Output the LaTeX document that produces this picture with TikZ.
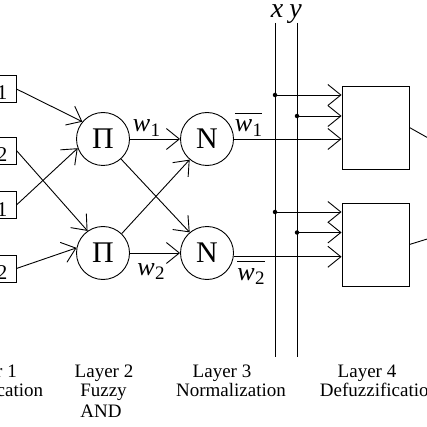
\documentclass[tikz,border=0pt]{standalone}
\usepackage{fontspec}
\setmainfont{Liberation Serif}
\usetikzlibrary{arrows.meta}
\newcommand\wsub[1]{{\fontsize{26}{26}\selectfont\itshape w}\kern0.5pt\raisebox{-4.5pt}{\fontsize{19}{19}\selectfont #1}}
\newcommand\wbar[1]{\vbox{\hrule height 0.9pt\kern6.5pt\hbox{\wsub{#1}}}}
\begin{document}
\begin{tikzpicture}[x=1pt,y=-1pt,line width=0.9pt,
  >={Straight Barb[length=13pt,width=21pt]},
  inbox/.style={draw,minimum width=56pt,minimum height=27pt,inner sep=0pt},
  digit/.style={font=\fontsize{21}{21}\selectfont,inner sep=0pt,anchor=base west},
  opnode/.style={draw,circle,minimum size=53pt,inner sep=0pt,font=\fontsize{30}{30}\selectfont},
  defbox/.style={draw,minimum width=67pt,minimum height=83pt,inner sep=0pt},
  wlab/.style={inner sep=0pt,anchor=base},
  varlab/.style={inner sep=0pt,anchor=base,font=\fontsize{28}{28}\selectfont\itshape},
  layerlab/.style={inner sep=0pt,anchor=base,font=\fontsize{19}{20}\selectfont},
  dot/.style={circle,fill,inner sep=0pt,minimum size=4.5pt}]
\useasboundingbox (0,0) rectangle (427,427);
\clip (0,0) rectangle (427,427);
\fill[white] (0,0) rectangle (427,427);

% Layer 1 boxes (cut by the left edge)
\node[inbox] (b1) at (-12,89) {};
\node[inbox] (b2) at (-12,150.5) {};
\node[inbox] (b3) at (-12,205) {};
\node[inbox] (b4) at (-12,268.5) {};
\node[digit] (t1) at (-3.5,100) {1};
\node[digit] (t2) at (-3.5,161.5) {2};
\node[digit] (t3) at (-3.5,216) {1};
\node[digit] (t4) at (-3.5,279) {2};

% Layer 2 and 3 nodes
\node[opnode] (p1) at (103,139) {Π};
\node[opnode] (p2) at (103,253) {Π};
\node[opnode] (n1) at (207,139) {N};
\node[opnode] (n2) at (207,253) {N};

\draw[->] (b1.east) -- (p1.140);
\draw[->] (b3.east) -- (p1.200);
\draw[->] (b2.east) -- (p2.125);
\draw[->] (b4.east) -- (p2.169);

\draw[->] (p1.east) -- (n1.west);
\draw[->] (p2.east) -- (n2.west);
\draw[->] (p1.-48) -- (n2.130);
\draw[->] (p2.46) -- (n1.230);

\node[wlab] (w1) at (146.5,132) {\wsub{1}};
\node[wlab] (w2) at (151,275) {\wsub{2}};
\node[wlab] (wb1) at (248.5,132) {\wbar{1}};
\node[wlab] (wb2) at (251,280) {\wbar{2}};

% x, y lines
\node[varlab] (xl) at (277,18) {x};
\node[varlab] (yl) at (295.5,18) {y};
\coordinate (xt) at (275,23);
\coordinate (xb) at (275,357);
\coordinate (yt) at (297,23);
\coordinate (yb) at (297,357);
\draw (xt) -- (xb);
\draw (yt) -- (yb);

% Layer 4 boxes
\node[defbox] (d1) at (375.5,127.5) {};
\node[defbox] (d2) at (375.5,244.5) {};

\node[dot] (x1) at (275,95) {};
\node[dot] (y1) at (297,116) {};
\node[dot] (x2) at (275,212) {};
\node[dot] (y2) at (297,232.5) {};

\draw[->] (x1.center) -- (x1.center -| d1.west);
\draw[->] (y1.center) -- (y1.center -| d1.west);
\draw[->] (n1.east) -- (n1.east -| d1.west);
\draw[->] (x2.center) -- (x2.center -| d2.west);
\draw[->] (y2.center) -- (y2.center -| d2.west);
\draw[->] (n2.-8) -- (n2.-8 -| d2.west);

% outputs towards the cut-off right edge
\coordinate (o1) at (445,147.5);
\coordinate (o2) at (445,233.5);
\draw (d1.east) -- (o1);
\draw (d2.east) -- (o2);

% layer labels
\node[layerlab] (l1a) at (-12.5,377) {Layer 1};
\node[layerlab] (l1b) at (-7,396) {Fuzzification};
\node[layerlab] (l2a) at (104,377) {Layer 2};
\node[layerlab] (l2b) at (103.5,396) {Fuzzy};
\node[layerlab] (l2c) at (101,417) {AND};
\node[layerlab] (l3a) at (222,377) {Layer 3};
\node[layerlab] (l3b) at (231,396) {Normalization};
\node[layerlab] (l4a) at (367,377) {Layer 4};
\node[layerlab] (l4b) at (379,396) {Defuzzification};
\end{tikzpicture}
\end{document}
